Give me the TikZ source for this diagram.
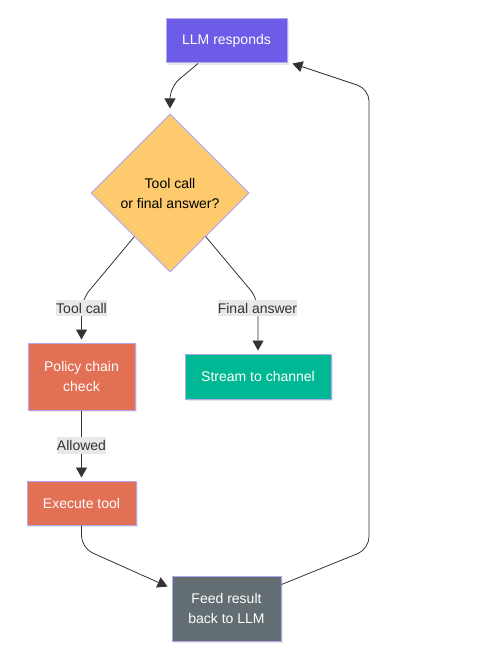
\documentclass[tikz,border=0pt]{standalone}
\usepackage{fontspec}
\setmainfont{Liberation Sans}
\usetikzlibrary{shapes.geometric,arrows.meta,shadows,calc}
\definecolor{cpurple}{HTML}{6C5CE7}
\definecolor{cyellow}{HTML}{FDCB6E}
\definecolor{corange}{HTML}{E17055}
\definecolor{cgreen}{HTML}{00B894}
\definecolor{cgray}{HTML}{636E72}
\definecolor{cborder}{HTML}{B3A8EE}
\definecolor{cedge}{HTML}{333333}
\definecolor{clabel}{HTML}{E8E8E8}
\tikzset{
  box/.style={draw=cborder, line width=1pt, text=white, align=center,
    font=\fontsize{14}{20}\selectfont, inner sep=0pt,
    drop shadow={shadow xshift=2pt, shadow yshift=-2pt, opacity=0.18}},
  decision/.style={diamond, aspect=1, draw=cborder, line width=1pt, fill=cyellow,
    text=black, align=center, font=\fontsize{14}{20}\selectfont, inner sep=0pt,
    minimum width=158pt, minimum height=158pt},
  conn/.style={draw=cedge, line width=0.8pt, rounded corners=12pt,
    -{Triangle[length=10pt,width=11pt]}},
  elabel/.style={fill=clabel, text=cedge, font=\fontsize{14}{17}\selectfont,
    inner xsep=0pt, inner ysep=3pt}
}
\begin{document}
\begin{tikzpicture}[x=1pt,y=-1pt]
\useasboundingbox (0,0) rectangle (477,660);
\node[box, fill=cpurple, minimum width=121pt, minimum height=44pt] (llm) at (226.5,41) {LLM responds};
\node[decision] (dia) at (170,193) {Tool call\\or final answer?};
\node[box, fill=corange, minimum width=107pt, minimum height=67pt] (pol) at (81.5,376.5) {Policy chain\\check};
\node[box, fill=cgreen, minimum width=146pt, minimum height=45pt] (str) at (258,376.5) {Stream to channel};
\node[box, fill=corange, minimum width=109pt, minimum height=44pt] (exe) at (81.5,503) {Execute tool};
\node[box, fill=cgray, minimum width=109pt, minimum height=65pt] (feed) at (226.5,608.5) {Feed result\\back to LLM};

\draw[conn] ([xshift=-28.5pt]llm.south) -- (170,87) -- ([yshift=5pt]dia.north);
\draw[conn] ($(dia.west)!0.55!(dia.south)$) -- (81.5,300) -- ([yshift=3pt]pol.north);
\draw[conn] ($(dia.east)!0.55!(dia.south)$) -- (258,299) -- ([yshift=3pt]str.north);
\draw[conn] (pol.south) -- ([yshift=3pt]exe.north);
\draw[conn] (exe.south) -- (81.5,548) -- ([xshift=-4pt,yshift=-11pt]feed.north west);
\draw[conn] ([yshift=-9pt]feed.north east) -- (369,549) -- (369,89) -- ([xshift=5pt,yshift=0pt]llm.south east);

\node[elabel] (l1) at (81.5,308) {Tool call};
\node[elabel] (l2) at (257.5,308) {Final answer};
\node[elabel] (l3) at (81.5,445.5) {Allowed};
\end{tikzpicture}
\end{document}
